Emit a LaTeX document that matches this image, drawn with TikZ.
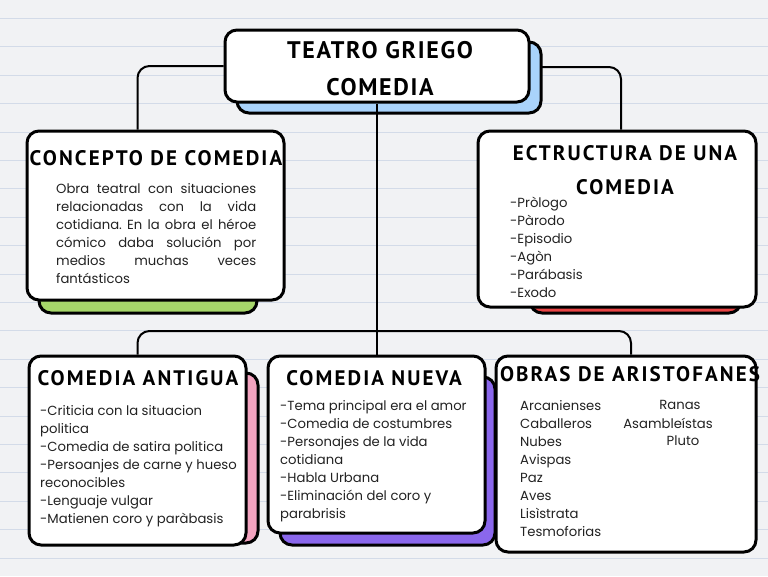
\documentclass[tikz,border=0pt]{standalone}
\usepackage{fontspec}
\setmainfont{Poppins}
\newfontfamily\hfont[LetterSpace=10]{PT Sans}
\newfontfamily\tfont[LetterSpace=7]{PT Sans}
\definecolor{bgc}{HTML}{F1F2F4}
\definecolor{rulec}{HTML}{D3DBE8}
\definecolor{blueS}{HTML}{A9D3FB}
\definecolor{greenS}{HTML}{A6D66A}
\definecolor{redS}{HTML}{E94545}
\definecolor{pinkS}{HTML}{F3A3BF}
\definecolor{purpleS}{HTML}{8A67EC}
\definecolor{txt}{HTML}{222222}
\frenchspacing
\begin{document}
\begin{tikzpicture}[x=1pt,y=-1pt,
  box/.style={draw=black, line width=3pt, fill=white, rounded corners=12pt, inner sep=0pt},
  shadowbox/.style={draw=black, line width=3pt, rounded corners=12pt},
  conn/.style={draw=black, line width=2pt, rounded corners=12pt},
  head/.style={font=\hfont\bfseries\fontsize{21}{24}\selectfont, inner sep=0pt, text=black},
  bigtitle/.style={font=\tfont\bfseries\fontsize{24}{37}\selectfont, inner sep=0pt, align=center, text=black},
  body/.style={font=\fontsize{13.2}{18}\selectfont, inner sep=0pt, align=left, text=txt},
  ruled/.style={draw=rulec, line width=1pt}]
\useasboundingbox (0,0) rectangle (768,576);
\fill[bgc] (0,0) rectangle (768,576);
\foreach \k in {0,...,19} \draw[ruled] (0,18.5+28.4*\k) -- (768,18.5+28.4*\k);

% shadows
\draw[shadowbox, fill=blueS] (237,42) rectangle (541,113);
\draw[shadowbox, fill=greenS] (39,160) rectangle (257,313);
\draw[shadowbox, fill=redS] (530,160) rectangle (741,313);
\draw[shadowbox, fill=pinkS] (60,373) rectangle (258,543);
\draw[shadowbox, fill=purpleS] (280,377) rectangle (495,545);
\coordinate (tshadowE) at (541,67);

% boxes
\node[box, minimum width=304pt, minimum height=72pt] (title) at (377,66) {};
\node[box, minimum width=257pt, minimum height=169pt] (concepto) at (155.5,215.5) {};
\node[box, minimum width=278pt, minimum height=176pt] (estr) at (617,219) {};
\node[box, minimum width=217pt, minimum height=189pt] (antigua) at (137.5,450.5) {};
\node[box, minimum width=217pt, minimum height=177pt] (nueva) at (376.5,444.5) {};
\node[box, minimum width=260pt, minimum height=196pt] (obras) at (626,454) {};

% connectors
\draw[conn] (title.west) -| ([xshift=-18pt]concepto.north);
\draw[conn] (tshadowE) -| ([xshift=4pt]estr.north);
\draw[conn] (title.south) -- (title.south |- nueva.north);
\coordinate (hub) at (376.5,331);
\draw[conn] (antigua.north) |- (hub) -| ([xshift=5pt]obras.north);

% texts
\node[bigtitle] (ttext) at (380,69) {TEATRO GRIEGO\\COMEDIA};

\node[head] (hconcepto) at (156,158) {CONCEPTO DE COMEDIA};
\node[body, anchor=north west, text width=200pt, align=justify] (tconcepto) at (56,183)
 {Obra teatral con situaciones\linebreak relacionadas con la vida\linebreak cotidiana. En la obra el héroe\linebreak cómico daba solución por\linebreak medios muchas veces\linebreak fantásticos};

\node[head, align=center, font=\hfont\bfseries\fontsize{21}{34}\selectfont] (hestr) at (625,170) {ECTRUCTURA DE UNA\\COMEDIA};
\node[body, anchor=north west] (testr) at (510,197)
 {-Pròlogo\\-Pàrodo\\-Episodio\\-Agòn\\-Parábasis\\-Exodo};

\node[head] (hantigua) at (138,378) {COMEDIA ANTIGUA};
\node[body, anchor=north west] (tantigua) at (40,405)
 {-Criticia con la situacion\\politica\\-Comedia de satira politica\\-Persoanjes de carne y hueso\\reconocibles\\-Lenguaje vulgar\\-Matienen coro y paràbasis};

\node[head] (hnueva) at (374,378) {COMEDIA NUEVA};
\node[body, anchor=north west] (tnueva) at (280,400)
 {-Tema principal era el amor\\-Comedia de costumbres\\-Personajes de la vida\\cotidiana\\-Habla Urbana\\-Eliminación del coro y\\parabrisis};

\node[head] (hobras) at (630,374) {OBRAS DE ARISTOFANES};
\node[body, anchor=north west] (tobras) at (520,400)
 {Arcanienses\\Caballeros\\Nubes\\Avispas\\Paz\\Aves\\Lisìstrata\\Tesmoforias};
\node[body] (ranas) at (680,405) {Ranas};
\node[body] (asamb) at (668,423) {Asambleístas};
\node[body] (pluto) at (683,441) {Pluto};
\end{tikzpicture}
\end{document}
